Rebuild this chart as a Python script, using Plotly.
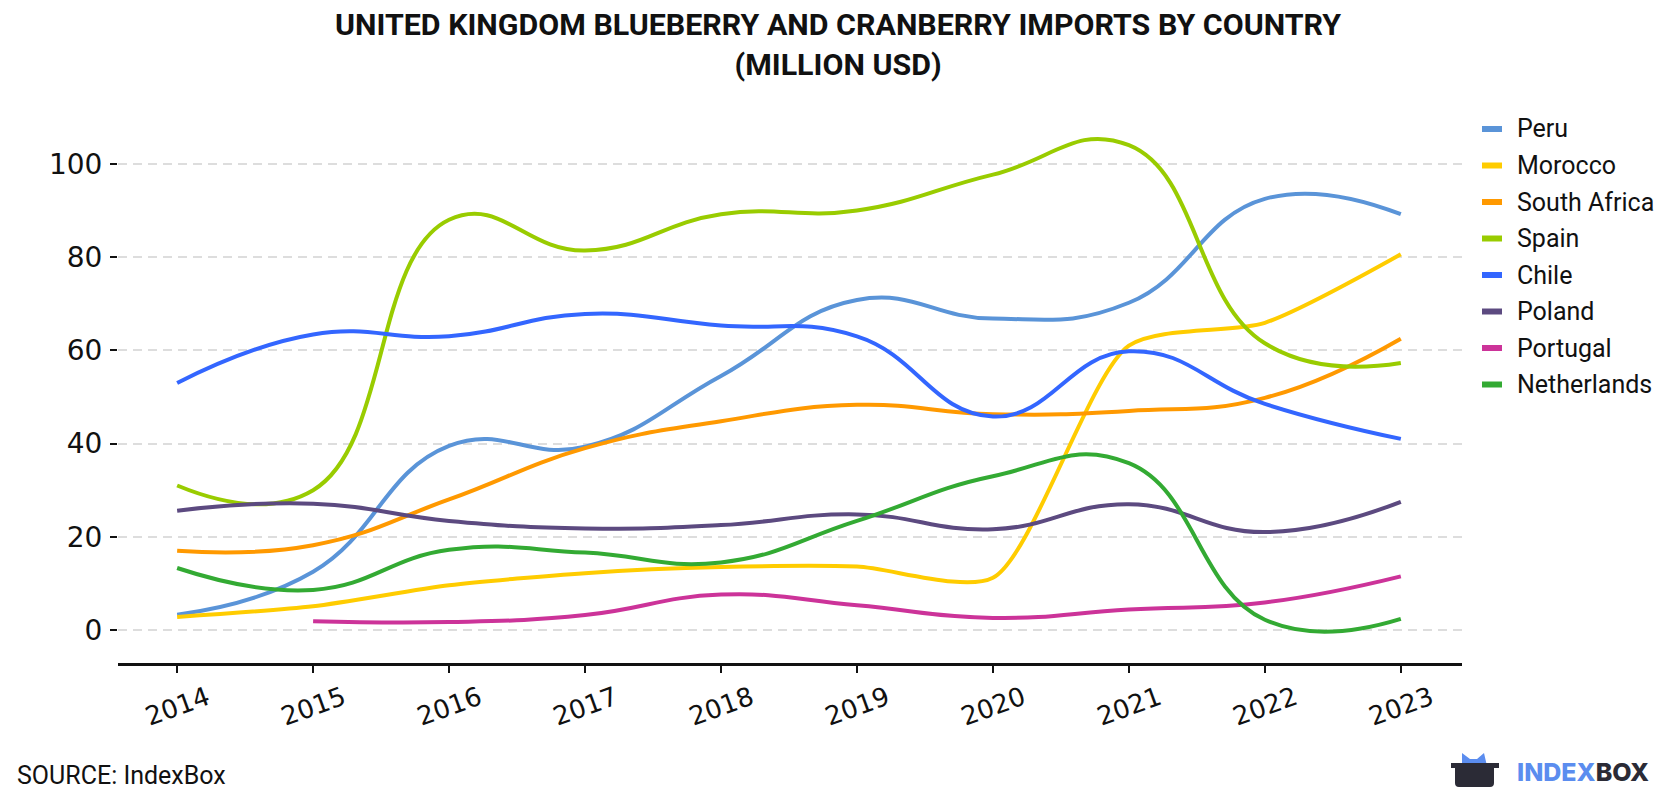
import plotly.graph_objects as go

years = [2014, 2015, 2016, 2017, 2018, 2019, 2020, 2021, 2022, 2023]
peru = [3.3, 12.5, 39.5, 39.3, 54.5, 70.8, 66.8, 70.2, 92.5, 89.2]
morocco = [2.8, 5.1, 9.6, 12.2, 13.5, 13.6, 11.2, 61.0, 65.9, 80.6]
south_africa = [17.0, 18.2, 28.0, 39.0, 44.8, 48.3, 46.3, 47.0, 49.8, 62.5]
spain = [31.0, 30.0, 88.0, 81.4, 89.2, 90.0, 97.7, 104.0, 61.5, 57.3]
chile = [53.0, 63.4, 63.0, 67.8, 65.3, 63.0, 45.8, 59.8, 48.5, 41.0]
poland = [25.6, 27.1, 23.4, 21.8, 22.5, 24.8, 21.6, 27.0, 21.0, 27.5]
portugal = [None, 1.9, 1.7, 3.2, 7.6, 5.3, 2.6, 4.4, 5.9, 11.5]
netherlands = [13.3, 8.6, 17.2, 16.6, 14.5, 23.4, 33.0, 35.8, 2.2, 2.4]

series_names = ["Peru", "Morocco", "South Africa", "Spain", "Chile", "Poland", "Portugal", "Netherlands"]
series_values = [peru, morocco, south_africa, spain, chile, poland, portugal, netherlands]
series_colors = ["#5A94D8", "#FFCC00", "#FF9900", "#99CC00", "#3366FF", "#5C4A80", "#CC3399", "#33AA33"]
series_smoothing = [1.3, 0.7, 1.3, 1.3, 1.3, 1.3, 1.3, 1.3]

y_ticks = [0, 20, 40, 60, 80, 100]

W, H = 1680, 800
L, R, T, B = 118, 218, 100, 137
PW, PH = W - L - R, H - T - B


def px(x):
    return (x - L) / PW


def py(y):
    return (H - B - y) / PH


fig = go.Figure()
for name, vals, col, sm in zip(series_names, series_values, series_colors, series_smoothing):
    fig.add_trace(go.Scatter(
        x=years, y=vals, name=name, mode="lines",
        line=dict(color=col, width=4, shape="spline", smoothing=sm),
        connectgaps=False, showlegend=False,
    ))

# manual legend
for i, (name, col) in enumerate(zip(series_names, series_colors)):
    yy = 129 + i * 36.5
    fig.add_shape(type="line", xref="paper", yref="paper",
                  x0=px(1482), x1=px(1502), y0=py(yy), y1=py(yy),
                  line=dict(color=col, width=6))
    fig.add_annotation(text=name, xref="paper", yref="paper",
                       x=px(1515), y=py(yy), xanchor="left", yanchor="middle",
                       showarrow=False, font=dict(family="Roboto", size=25, color="#111"))

# title
fig.add_annotation(text="<b>UNITED KINGDOM BLUEBERRY AND CRANBERRY IMPORTS BY COUNTRY<br>(MILLION USD)</b>",
                   xref="paper", yref="paper", x=px(838), y=py(45),
                   xanchor="center", yanchor="middle", showarrow=False,
                   font=dict(family="Roboto", size=30.4, color="#111"))

# source
fig.add_annotation(text="SOURCE: IndexBox", xref="paper", yref="paper",
                   x=px(15), y=py(775), xanchor="left", yanchor="middle",
                   showarrow=False, font=dict(family="Roboto", size=25, color="#111"))

# logo
fig.add_shape(type="path", xref="paper", yref="paper",
              path=("M {} {} L {} {} L {} {} L {} {} L {} {} L {} {} L {} {} L {} {} Z").format(
                  px(1462), py(768), px(1462), py(753), px(1470), py(759),
                  px(1477), py(759), px(1484), py(753), px(1487), py(766),
                  px(1485), py(775), px(1462), py(775)),
              fillcolor="#5B8DEF", line=dict(width=0))
fig.add_shape(type="path", xref="paper", yref="paper",
              path=("M {} {} L {} {} L {} {} L {} {} L {} {} Q {} {} {} {} L {} {} Q {} {} {} {} L {} {} L {} {} Z").format(
                  px(1451), py(763), px(1499), py(763), px(1499), py(768),
                  px(1494), py(768), px(1494), py(783), px(1494), py(787), px(1490), py(787),
                  px(1459), py(787), px(1455), py(787), px(1455), py(783),
                  px(1455), py(768), px(1451), py(768)),
              fillcolor="#2B2B36", line=dict(width=0))
fig.add_annotation(text="<span style='color:#5B8DEF'>INDEX</span><span style='color:#2B2B36'>BOX</span>",
                   xref="paper", yref="paper", x=px(1515), y=py(772),
                   xanchor="left", yanchor="middle", showarrow=False,
                   font=dict(family="Inter", size=25, weight=800))

fig.update_layout(
    width=W, height=H,
    margin=dict(l=L, r=R, t=T, b=B, autoexpand=False),
    paper_bgcolor="white", plot_bgcolor="white",
    xaxis=dict(range=[2013.565, 2023.45], tickvals=years, ticktext=[str(y) for y in years],
               tickangle=-20, ticklabelshift=30, showline=True, linecolor="#111", linewidth=3,
               ticks="outside", ticklen=7, tickwidth=2, tickcolor="#111",
               showgrid=False, zeroline=False,
               tickfont=dict(family="DejaVu Sans", size=26, color="#111")),
    yaxis=dict(range=[-7.08, 113.7], tickvals=y_ticks, showline=False,
               ticks="outside", ticklen=7, tickwidth=2, tickcolor="#111",
               showgrid=True, gridcolor="#DDDDDD", gridwidth=2, griddash="9px,6px",
               zeroline=False, ticklabelstandoff=2,
               tickfont=dict(family="DejaVu Sans", size=28, color="#111")),
)

fig.write_html("out.html")
